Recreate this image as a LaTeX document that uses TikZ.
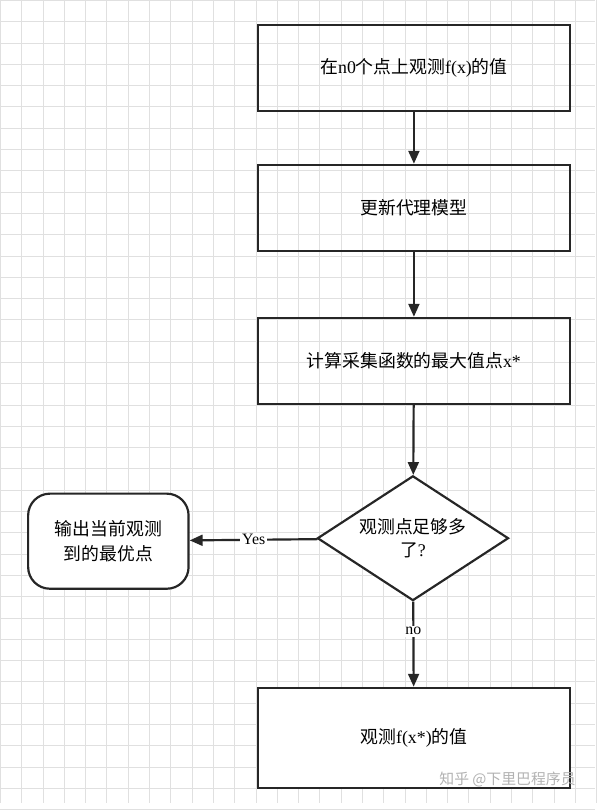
\documentclass[tikz,border=0pt]{standalone}
\usepackage{fontspec}
\setmainfont{Liberation Serif}
\newfontfamily\cjk{Noto Sans CJK SC}
\newcommand{\zh}[1]{{\cjk #1}}
\usetikzlibrary{shapes.geometric,arrows.meta}
\begin{document}
\begin{tikzpicture}[x=1pt,y=-1pt,
 box/.style={draw=black!85,line width=2.2pt,rectangle,minimum width=315pt,minimum height=87pt,font=\fontsize{18}{21}\selectfont,inner sep=0pt},
 arr/.style={draw=black!85,line width=2.2pt,-{Triangle[length=13pt,width=11pt]}},
 lab/.style={font=\fontsize{16}{19}\selectfont,fill=white,inner sep=2pt},
 gridline/.style={draw=black!12,line width=0.8pt}]
\fill[white] (0,0) rectangle (600,810);
\foreach \i in {0,...,28} {\draw[gridline] (\i*21.5,0) -- (\i*21.5,810);}
\foreach \j in {0,...,38} {\draw[gridline] (0,\j*21.5) -- (600,\j*21.5);}
\useasboundingbox (0,0) rectangle (600,810);
\node[box] (b1) at (417.5,68.5) {\zh{在}n0\zh{个点上观测}f(x)\zh{的值}};
\node[box] (b2) at (417.5,209.5) {\zh{更新代理模型}};
\node[box] (b3) at (417.5,364) {\zh{计算采集函数的最大值点}x*};
\node[draw=black!85,line width=2.2pt,diamond,aspect=1.53,minimum width=193pt,minimum height=126pt,inner sep=0pt,fill=white,font=\fontsize{18}{24}\selectfont,align=center] (d) at (416.5,543) {\zh{观测点足够多}\\\zh{了}?};
\node[draw=black!85,line width=2.2pt,rounded corners=22pt,minimum width=162pt,minimum height=96pt,fill=white,font=\fontsize{18}{26}\selectfont\cjk,align=center] (o) at (109,546) {输出当前观测\\到的最优点};
\node[box,minimum height=101pt,fill=white] (b4) at (417.5,744.5) {\zh{观测}f(x*)\zh{的值}};
\draw[arr] (b1) -- (b2);
\draw[arr] (b2) -- (b3);
\draw[arr] (b3) -- (d);
\draw[arr] (d) -- node[lab]{Yes} (o);
\draw[arr] (d) -- node[lab,pos=0.35]{no} (b4);
\node[font=\fontsize{15}{18}\selectfont\cjk,text=black!30] (w) at (512,787) {知乎 @下里巴程序员};
\end{tikzpicture}
\end{document}
